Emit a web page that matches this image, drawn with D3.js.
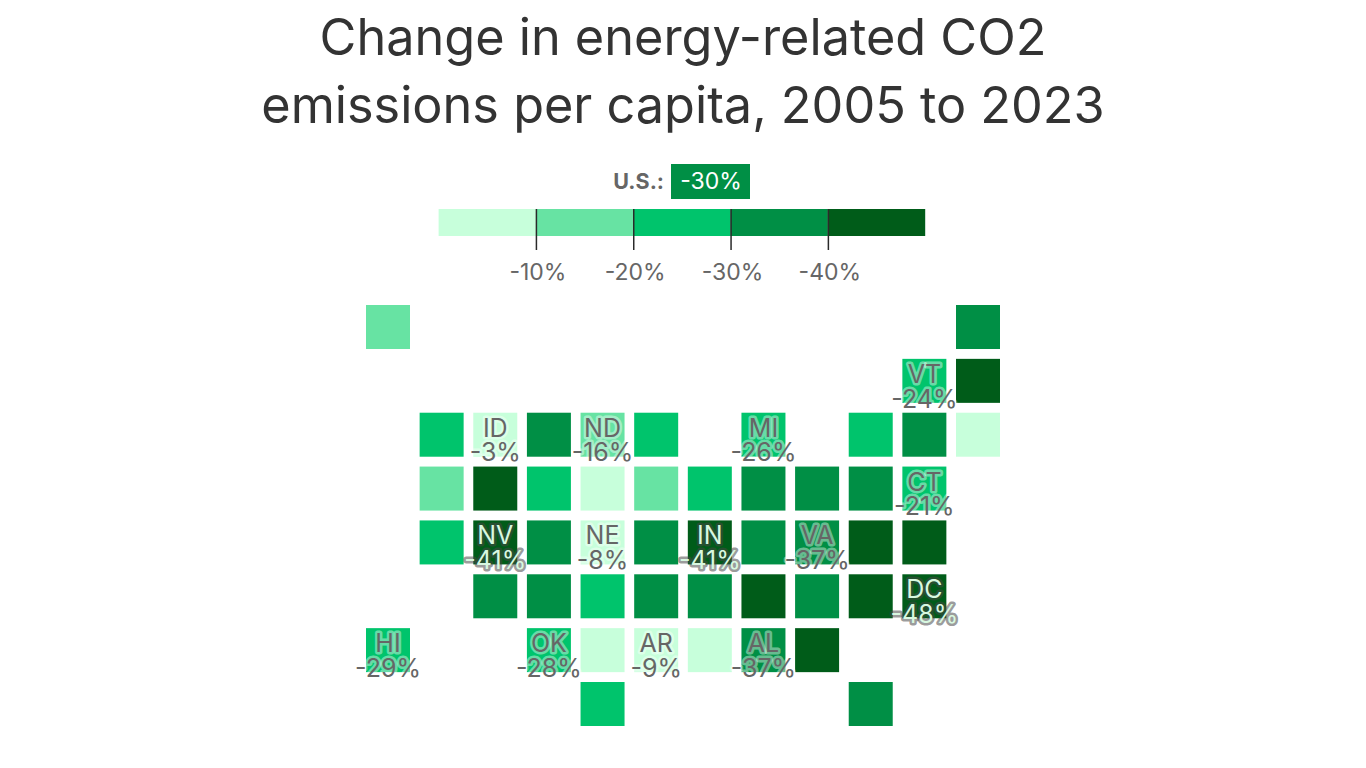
<!DOCTYPE html>
<html>
<head>
<meta charset="utf-8">
<script src="https://cdn.jsdelivr.net/npm/d3@7"></script>
<style>
  html, body { margin: 0; padding: 0; background: #fff; }
  svg { display: block; font-family: Inter, "Liberation Sans", sans-serif; }
</style>
</head>
<body>
<svg id="chart" width="1366" height="768"></svg>
<script>
// Title lines
const titleLines = ["Change in energy-related CO2", "emissions per capita, 2005 to 2023"];

// Legend
const thresholds = [-10, -20, -30, -40];
const binColors = ["#c7ffdb", "#67e3a3", "#00c46c", "#008f45", "#005c19"];
const nationalValue = -30;

// Tile map, one array per grid row: state, grid column, percent change.
// Labelled states are read directly; the rest are estimated from their colour band.
const states = [
  ["AK","ME"],
  ["VT","NH"],
  ["WA","ID","MT","ND","MN","MI","NY","MA","RI"],
  ["OR","WY","SD","IA","IL","WI","OH","PA","NJ","CT"],
  ["CA","NV","CO","NE","MO","IN","WV","VA","MD","DE"],
  ["AZ","UT","KS","TN","KY","NC","SC","NM","DC"],
  ["HI","OK","LA","AR","MS","AL","GA"],
  ["TX","FL"]
];
const columns = [
  [0,11],
  [10,11],
  [1,2,3,4,5,7,9,10,11],
  [1,2,3,4,5,6,7,8,9,10],
  [1,2,3,4,5,6,7,8,9,10],
  [2,3,4,5,6,7,8,9,10],
  [0,3,4,5,6,7,8],
  [4,9]
];
const changes = [
  [-15,-35],
  [-24,-45],
  [-25,-3,-35,-16,-25,-26,-25,-35,-5],
  [-15,-45,-25,-5,-15,-25,-35,-35,-35,-21],
  [-25,-41,-35,-8,-35,-41,-35,-37,-45,-45],
  [-35,-35,-25,-35,-35,-45,-35,-45,-48],
  [-29,-28,-5,-9,-5,-37,-45],
  [-25,-35]
];
// Only these tiles carry a visible label
const labelled = ["ID","ND","MI","VT","CT","NV","NE","IN","VA","DC","HI","OK","AR","AL"];

const svg = d3.select("#chart");
const fmt = v => `-${Math.abs(v)}%`;

// Five colour bands; a value on a threshold falls in the darker band
const band = d3.scaleThreshold()
  .domain(thresholds.map(t => -t))
  .range(binColors);
const color = v => band(-v);

// Title
svg.append("g").selectAll("text").data(titleLines).join("text")
  .attr("x", 683)
  .attr("y", (d, i) => 55 + i * 68)
  .attr("text-anchor", "middle")
  .attr("font-size", 50.4)
  .attr("fill", "#333")
  .text(d => d);

// National callout
svg.append("text").attr("x", 664).attr("y", 189)
  .attr("text-anchor", "end").attr("font-size", 21.5).attr("font-weight", 700)
  .attr("fill", "#666").text("U.S.:");
svg.append("rect").attr("x", 671).attr("y", 164).attr("width", 79).attr("height", 35)
  .attr("fill", color(nationalValue));
svg.append("text").attr("x", 711).attr("y", 189)
  .attr("text-anchor", "middle").attr("font-size", 23).attr("fill", "#fff")
  .text(fmt(nationalValue));

// Colour legend with threshold ticks
const legendX = d3.scaleLinear().domain([0, -50]).range([438.6, 925.2]);
const legendY = 209, legendH = 27;
svg.append("g").selectAll("rect").data(binColors).join("rect")
  .attr("x", (d, i) => legendX(-10 * i))
  .attr("y", legendY)
  .attr("width", (d, i) => legendX(-10 * (i + 1)) - legendX(-10 * i))
  .attr("height", legendH)
  .attr("fill", d => d);
const legendAxis = d3.axisBottom(legendX)
  .tickValues(thresholds)
  .tickFormat(fmt)
  .tickSize(41)
  .tickPadding(14);
const axisG = svg.append("g").attr("transform", `translate(0,${legendY})`).call(legendAxis);
axisG.select(".domain").remove();
axisG.selectAll("line").attr("stroke", "#2a2a2a").attr("stroke-width", 1.5);
axisG.selectAll("text")
  .attr("font-size", 23).attr("font-family", "Inter, sans-serif").attr("fill", "#666")
  .attr("dx", 1.5);

// Tile grid
const xCol = d3.scaleLinear().domain([0, 11]).range([366, 956]);
const yRow = d3.scaleLinear().domain([0, 7]).range([305, 682]);
const tile = 44;
const data = states.flatMap((row, r) =>
  row.map((s, i) => ({ s, r, c: columns[r][i], v: changes[r][i] })));

svg.append("g").selectAll("rect").data(data).join("rect")
  .attr("x", d => xCol(d.c))
  .attr("y", d => yRow(d.r))
  .attr("width", tile)
  .attr("height", tile)
  .attr("fill", d => color(d.v));

// Labels sit above every tile so neighbours never cover them
const labels = svg.append("g").selectAll("g")
  .data(data.filter(d => labelled.includes(d.s))).join("g")
  .attr("transform", d => `translate(${xCol(d.c) + tile / 2},${yRow(d.r)})`);

const isDark = d => d.v <= -40;
labels.each(function (d) {
  const g = d3.select(this);
  const ink = isDark(d) ? "#d8f8e0" : "#666";
  const halo = isDark(d) ? "rgba(70,70,70,0.55)" : "rgba(255,255,255,0.42)";
  [[d.s, 24], [fmt(d.v), 48.7]].forEach(([txt, y]) => {
    g.append("text")
      .attr("y", y).attr("text-anchor", "middle").attr("font-size", 25)
      .attr("fill", ink).attr("stroke", halo).attr("stroke-width", 5)
      .attr("stroke-linejoin", "round").attr("paint-order", "stroke")
      .text(txt);
  });
});
</script>
</body>
</html>
